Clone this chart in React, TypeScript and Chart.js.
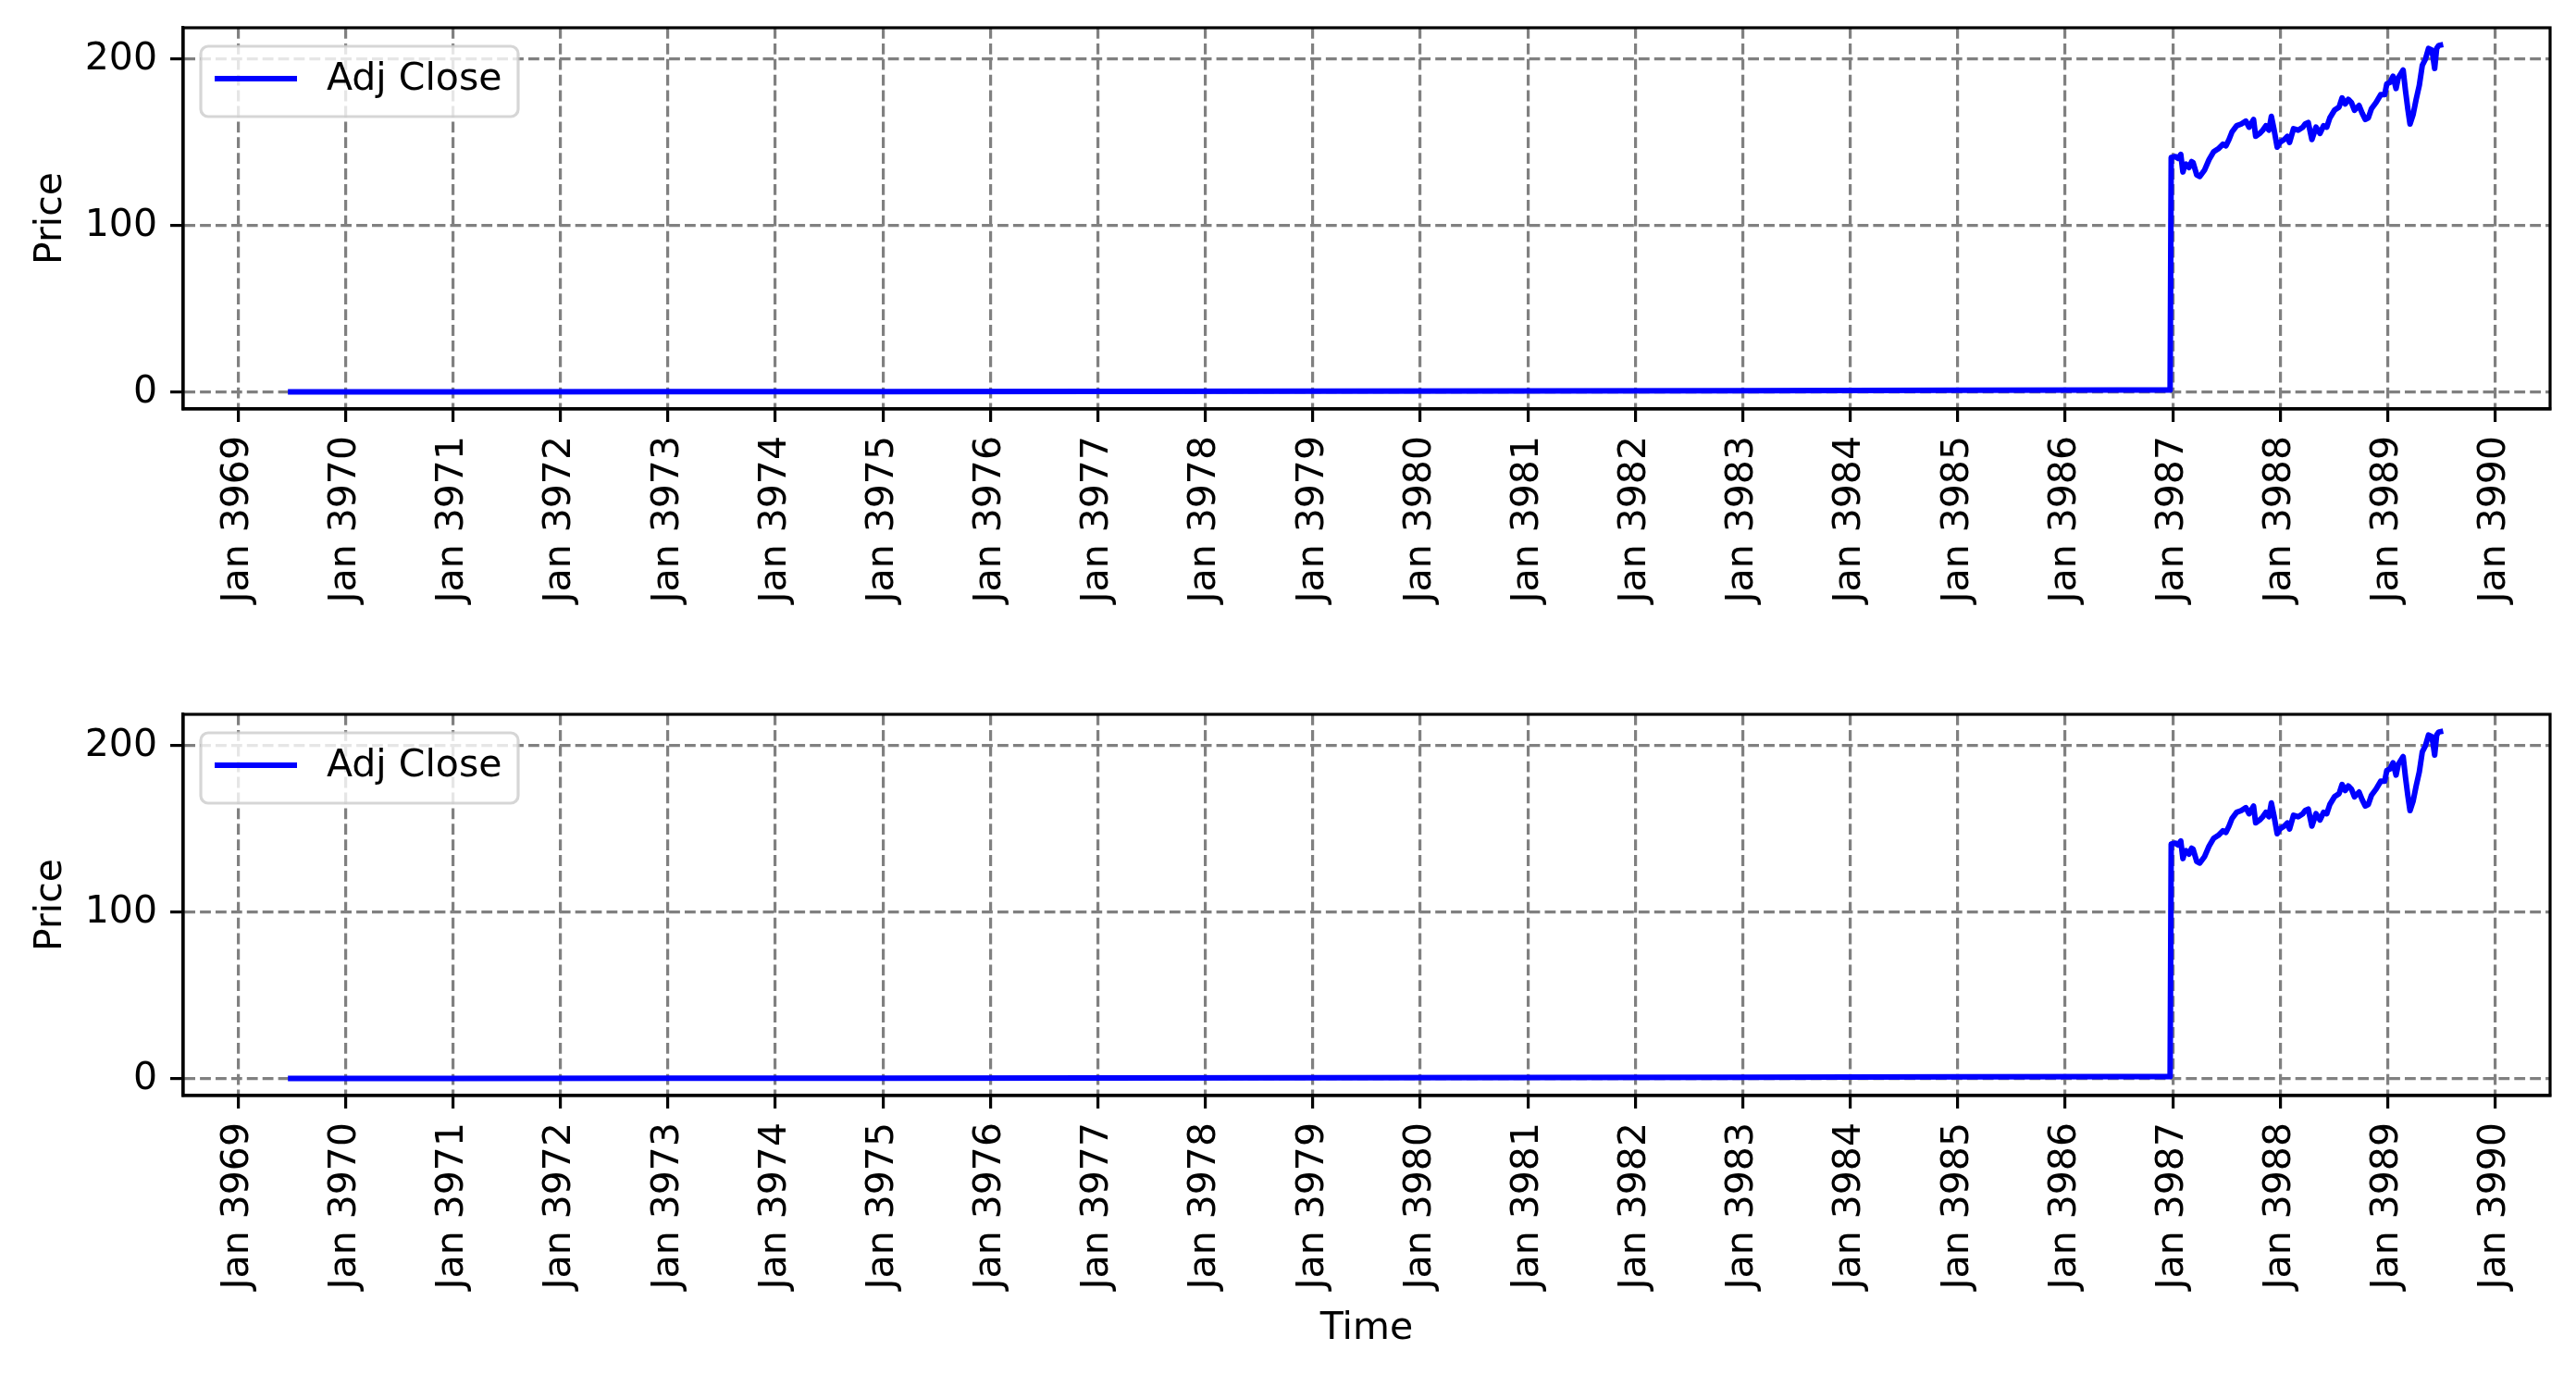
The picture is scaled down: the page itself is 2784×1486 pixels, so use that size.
import React, { useEffect, useRef } from "react";
import { Chart, registerables } from "chart.js";

Chart.register(...registerables);

// ---- data (fractional year, adjusted close) ----
const dateYears: number[] = [
  3969.49, 3971.0, 3973.0, 3975.0, 3977.0, 3979.0, 3981.0, 3983.0, 3985.0, 3986.5, 3986.975,
  3986.985, 3987.023, 3987.05, 3987.074, 3987.094, 3987.11, 3987.123, 3987.151, 3987.175, 3987.189,
  3987.223, 3987.251, 3987.294, 3987.337, 3987.38, 3987.423, 3987.466, 3987.494, 3987.523, 3987.551,
  3987.594, 3987.637, 3987.68, 3987.709, 3987.751, 3987.771, 3987.809, 3987.837, 3987.866, 3987.894,
  3987.917, 3987.943, 3987.971, 3987.994, 3988.037, 3988.066, 3988.086, 3988.123, 3988.166, 3988.209,
  3988.231, 3988.26, 3988.294, 3988.332, 3988.369, 3988.403, 3988.432, 3988.461, 3988.504, 3988.547,
  3988.575, 3988.604, 3988.633, 3988.662, 3988.69, 3988.733, 3988.762, 3988.791, 3988.819, 3988.848,
  3988.891, 3988.934, 3988.971, 3988.991, 3989.02, 3989.049, 3989.077, 3989.098, 3989.143, 3989.164,
  3989.186, 3989.207, 3989.235, 3989.264, 3989.293, 3989.321, 3989.35, 3989.379, 3989.407, 3989.42,
  3989.436, 3989.455, 3989.475, 3989.49,
];

const adjClose: number[] = [
  0.25, 0.3, 0.35, 0.45, 0.55, 0.65, 0.8, 1.0, 1.2, 1.35, 1.4,
  141.0, 141.6, 140.5, 142.9, 132.3, 136.0, 137.0, 135.0, 138.5, 137.9,
  130.5, 129.6, 133.3, 139.7, 144.4, 146.2, 149.0, 148.0, 151.8, 156.4,
  160.1, 161.1, 162.9, 159.2, 163.8, 153.7, 155.5, 157.4, 160.1, 157.4,
  165.7, 157.4, 147.2, 150.0, 151.8, 153.7, 150.0, 158.3, 157.4, 159.2,
  161.1, 162.0, 151.8, 159.2, 155.5, 160.1, 159.2, 164.8, 169.4, 171.3,
  176.8, 173.1, 175.9, 174.0, 169.4, 172.2, 167.6, 163.8, 164.8, 170.3,
  174.0, 178.7, 178.7, 185.2, 186.1, 189.8, 182.4, 188.9, 193.5, 181.5,
  170.3, 161.1, 166.6, 175.9, 184.2, 196.3, 200.0, 206.5, 205.6, 201.9,
  194.4, 206.5, 208.3, 208.5,
];

const yearTicks: number[] = [
  3969, 3970, 3971, 3972, 3973, 3974, 3975, 3976, 3977, 3978, 3979,
  3980, 3981, 3982, 3983, 3984, 3985, 3986, 3987, 3988, 3989, 3990,
];
const priceTicks: number[] = [0, 100, 200];
const seriesLabel = "Adj Close";
const xTitle = "Time";
const yTitle = "Price";

const X_MIN = 3968.49;
const X_MAX = 3990.51;
const Y_MIN = -10.0;
const Y_MAX = 218.9;

const FONT = "'DejaVu Sans', sans-serif";
const FONT_SIZE = 41;

function roundRectPath(ctx: CanvasRenderingContext2D, x: number, y: number, w: number, h: number, r: number) {
  ctx.beginPath();
  ctx.moveTo(x + r, y);
  ctx.lineTo(x + w - r, y);
  ctx.arcTo(x + w, y, x + w, y + r, r);
  ctx.lineTo(x + w, y + h - r);
  ctx.arcTo(x + w, y + h, x + w - r, y + h, r);
  ctx.lineTo(x + r, y + h);
  ctx.arcTo(x, y + h, x, y + h - r, r);
  ctx.lineTo(x, y + r);
  ctx.arcTo(x, y, x + r, y, r);
  ctx.closePath();
}

const frameLegendPlugin = {
  id: "frameLegend",
  afterDatasetsDraw(chart: any) {
    const { ctx, chartArea: a } = chart;
    ctx.save();
    // four spines
    ctx.setLineDash([]);
    ctx.strokeStyle = "#000000";
    ctx.lineWidth = 3.2;
    ctx.strokeRect(a.left, a.top, a.right - a.left, a.bottom - a.top);
    // legend box
    const ds = chart.data.datasets[0];
    const bx = a.left + 19;
    const by = a.top + 20;
    const bw = 343;
    const bh = 76;
    roundRectPath(ctx, bx, by, bw, bh, 8);
    ctx.fillStyle = "rgba(255,255,255,0.8)";
    ctx.fill();
    ctx.strokeStyle = "rgba(204,204,204,0.8)";
    ctx.lineWidth = 3.2;
    ctx.stroke();
    // handle
    const ly = by + 35;
    ctx.beginPath();
    ctx.strokeStyle = ds.borderColor;
    ctx.lineWidth = 6;
    ctx.lineCap = "butt";
    ctx.moveTo(a.left + 34, ly);
    ctx.lineTo(a.left + 123, ly);
    ctx.stroke();
    // text
    ctx.fillStyle = "#000000";
    ctx.font = `${FONT_SIZE}px ${FONT}`;
    ctx.textBaseline = "middle";
    ctx.textAlign = "left";
    ctx.fillText(ds.label, a.left + 155, ly + 1);
    ctx.restore();
  },
};

function PriceChart({ top, height, showXTitle }: { top: number; height: number; showXTitle: boolean }) {
  const ref = useRef<HTMLCanvasElement>(null);
  useEffect(() => {
    if (!ref.current) return;
    const font = { family: FONT, size: FONT_SIZE };
    const chart = new Chart(ref.current, {
      type: "line",
      data: {
        datasets: [
          {
            label: seriesLabel,
            data: dateYears.map((x, i) => ({ x, y: adjClose[i] })),
            borderColor: "#0000ff",
            backgroundColor: "#0000ff",
            borderWidth: 6,
            pointRadius: 0,
            tension: 0,
            fill: false,
            borderCapStyle: "square",
            borderJoinStyle: "round",
          } as any,
        ],
      },
      options: {
        responsive: false,
        animation: false,
        devicePixelRatio: 1,
        events: [],
        layout: { padding: { left: 0, right: 28, top: 30, bottom: 0 } },
        plugins: {
          legend: { display: false },
          tooltip: { enabled: false },
          title: { display: false },
        },
        scales: {
          x: {
            type: "linear",
            min: X_MIN,
            max: X_MAX,
            afterBuildTicks: (s: any) => {
              s.ticks = yearTicks.map((v) => ({ value: v }));
            },
            afterFit: (s: any) => {
              s.height = height - 442;
              s.paddingLeft = 0;
              s.paddingRight = 0;
              s.paddingTop = 0;
              s.paddingBottom = 0;
            },
            ticks: {
              autoSkip: false,
              minRotation: 90,
              maxRotation: 90,
              padding: 15,
              color: "#000000",
              font,
              callback: (v: any) => "Jan " + v,
            },
            grid: {
              color: "#808080",
              lineWidth: 3.2,
              tickColor: "#000000",
              tickWidth: 3.2,
              tickLength: 14,
              tickBorderDash: [],
            },
            border: { display: true, color: "#000000", width: 3.2, dash: [11.8, 5.1] },
            title: {
              display: showXTitle,
              text: xTitle,
              color: "#000000",
              font: { family: FONT, size: FONT_SIZE, lineHeight: 1.2 },
              padding: { top: 0, bottom: 25 },
            },
          },
          y: {
            type: "linear",
            min: Y_MIN,
            max: Y_MAX,
            afterBuildTicks: (s: any) => {
              s.ticks = priceTicks.map((v) => ({ value: v }));
            },
            afterFit: (s: any) => {
              s.width = 198;
              s.paddingLeft = 0;
              s.paddingRight = 0;
              s.paddingTop = 0;
              s.paddingBottom = 0;
            },
            ticks: {
              padding: 14,
              color: "#000000",
              font,
              callback: (v: any) => String(v),
            },
            grid: {
              color: "#808080",
              lineWidth: 3.2,
              tickColor: "#000000",
              tickWidth: 3.2,
              tickLength: 14,
              tickBorderDash: [],
            },
            border: { display: true, color: "#000000", width: 3.2, dash: [11.8, 5.1] },
            title: {
              display: true,
              text: yTitle,
              color: "#000000",
              font: { family: FONT, size: FONT_SIZE, lineHeight: 1.2 },
              padding: { top: 31, bottom: 0 },
            },
          },
        },
      } as any,
      plugins: [frameLegendPlugin],
    });
    return () => chart.destroy();
  }, [height, showXTitle]);

  return (
    <canvas
      ref={ref}
      width={2784}
      height={height}
      style={{ position: "absolute", left: 0, top, display: "block" }}
    />
  );
}

export default function App() {
  return (
    <div
      style={{
        position: "absolute",
        left: 0,
        top: 0,
        width: 2784,
        height: 1486,
        background: "#ffffff",
        overflow: "hidden",
      }}
    >
      <PriceChart top={0} height={742} showXTitle={false} />
      <PriceChart top={742} height={744} showXTitle={true} />
    </div>
  );
}
